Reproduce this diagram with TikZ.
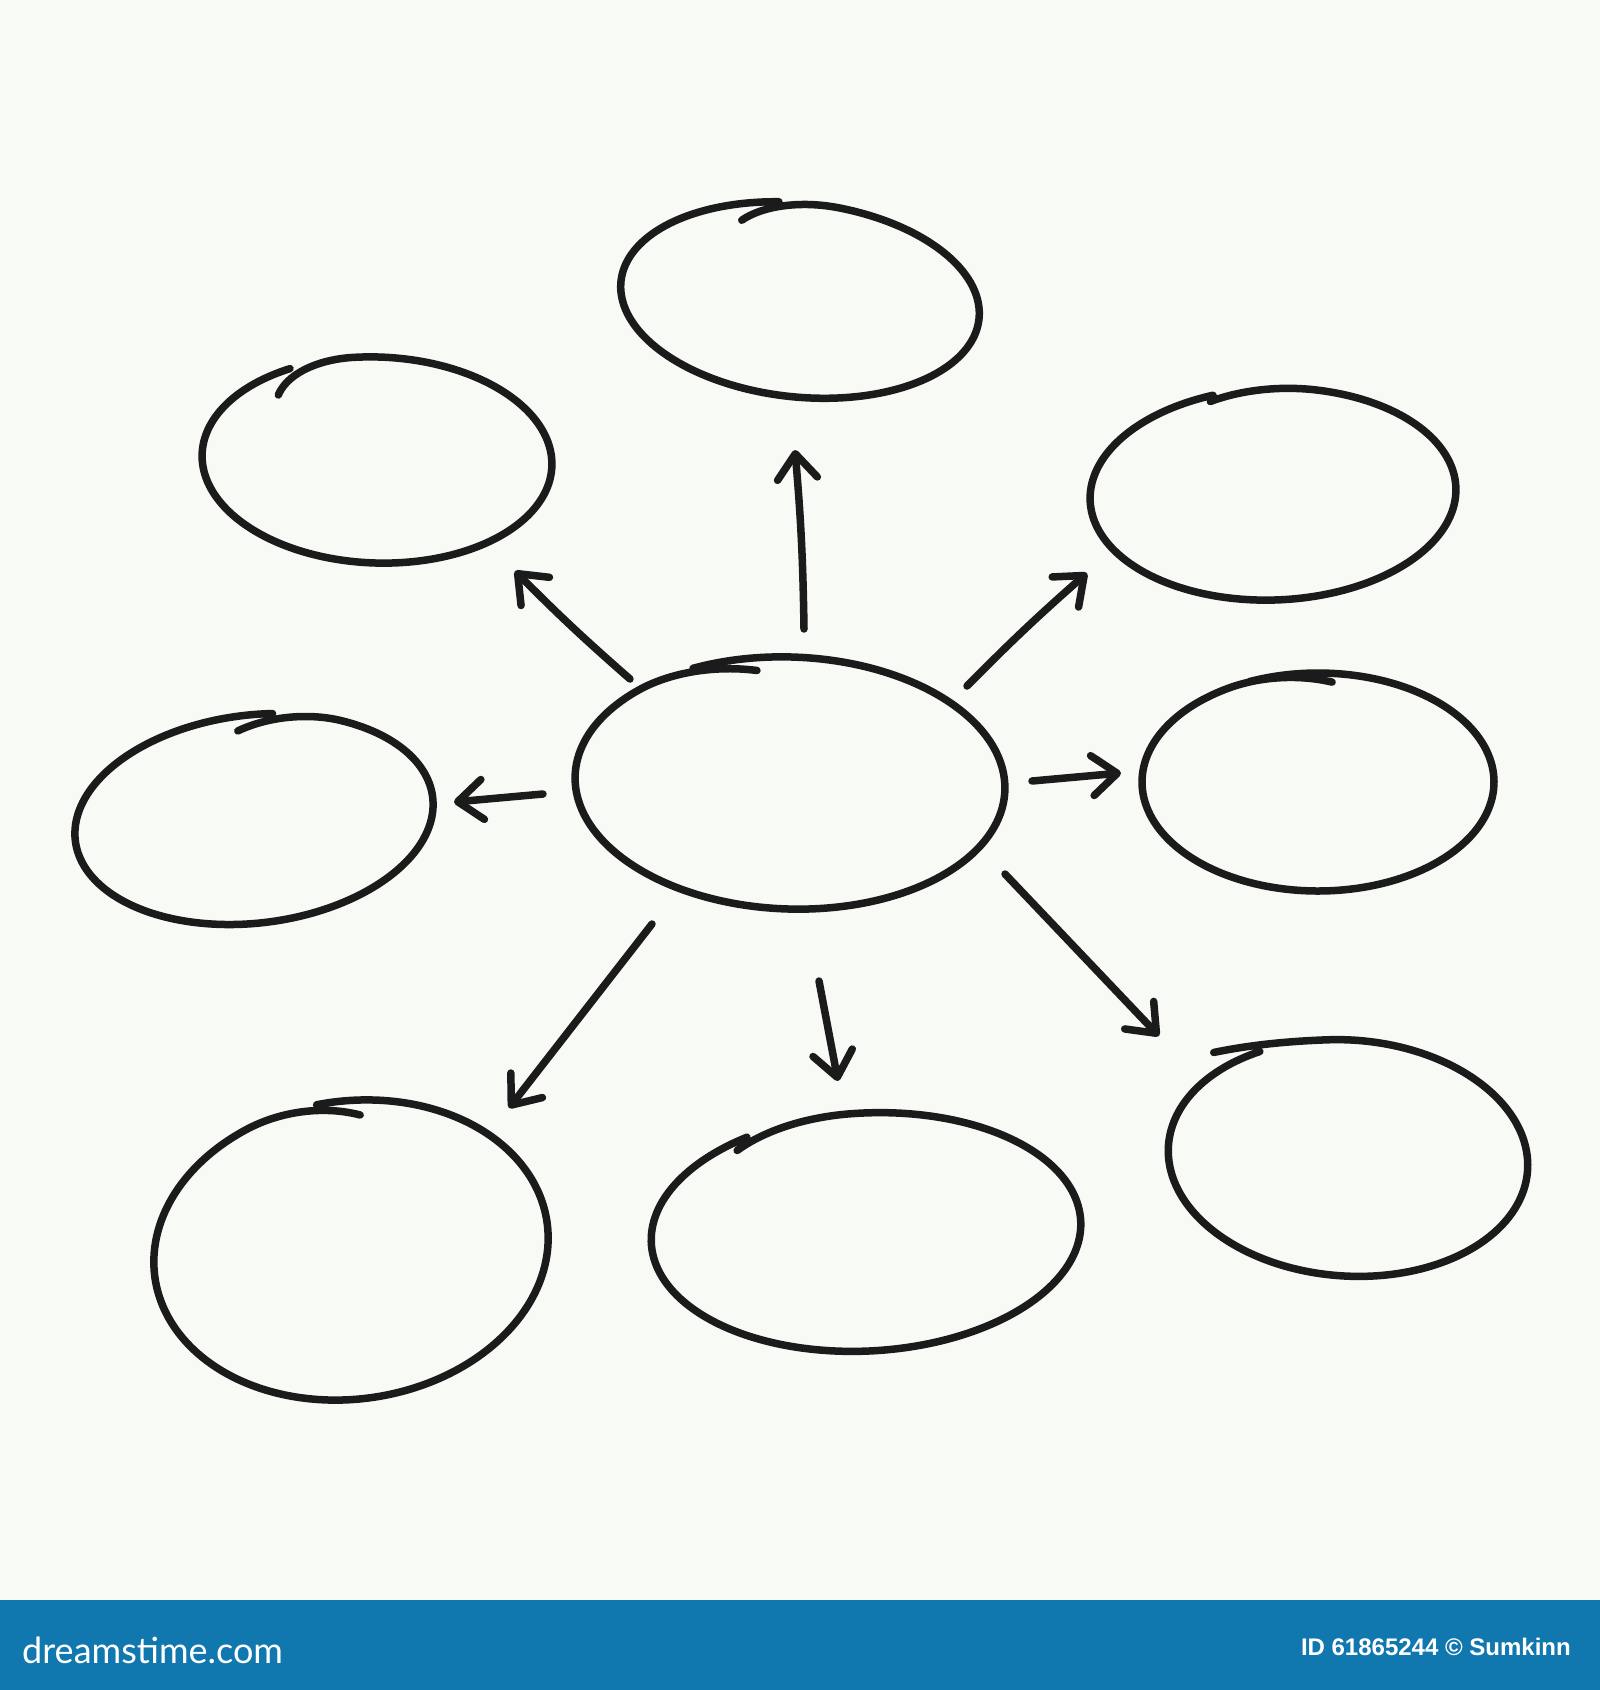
\documentclass[tikz,border=0pt]{standalone}
\usepackage{fontspec}
\setmainfont{Liberation Sans}
\newfontfamily\logofont{Lato}
\usetikzlibrary{arrows.meta,shapes.geometric}
\definecolor{bg}{HTML}{F8FAF5}
\definecolor{barblue}{HTML}{1077AF}
\definecolor{ink}{HTML}{1C1B1B}
\tikzset{
  pen/.style={draw=ink, line width=7.5pt, line cap=round, line join=round},
  ellnode/.style={ellipse, draw=none, inner sep=0pt},
  arr/.style={pen, -{Straight Barb[round,length=25pt,width=40pt]}},
}
% name, cx, cy(image), rx, ry, rot, t0, t1, d  (last 35 degrees drift by factor d)
\newcommand\hdell[9]{%
  \node[ellnode, minimum width={2*#4pt}, minimum height={2*#5pt}, rotate=#6] (#1) at (#2,-#3) {};
  \draw[pen, shift={(#2,-#3)}, rotate=#6]
    plot[smooth, samples=180, domain=#7:#8, variable=\t]
    ({#4*(1-(#9)*(max(0,1-abs((#8)-\t)/35))^2)*cos(\t)},
     {#5*(1-(#9)*(max(0,1-abs((#8)-\t)/35))^2)*sin(\t)});
}
\begin{document}
\begin{tikzpicture}[x=1pt,y=1pt]
\useasboundingbox (0,0) rectangle (1600,-1690);
\fill[bg] (0,0) rectangle (1600,-1690);

% ellipses
\hdell{T}{800}{300}{180}{97}{-6}{100}{476}{0.16}
\hdell{UL}{377}{460}{175}{103}{-2}{121}{494}{0.17}
\hdell{UR}{1273}{494}{183}{106}{2}{108}{470}{0.05}
\hdell{L}{254}{819}{180}{104}{7}{80}{452}{0.14}
\hdell{C}{790}{783}{215}{126}{-2}{118}{-259}{0.10}
\hdell{R}{1318}{782}{176}{109}{0}{113}{-275}{0.08}
\hdell{BL}{351}{1250}{198}{149}{8}{94}{-279}{0.10}
\hdell{BM}{866}{1232}{215}{119}{3}{122}{488}{0.06}
\hdell{BR}{1348}{1158}{180}{118}{-4}{122}{494}{-0.13}

% arrow end points
\coordinate (aULs) at (630,-679);  \coordinate (aULe) at (515,-571);
\coordinate (aTs)  at (804,-629);  \coordinate (aTe)  at (795,-450);
\coordinate (aURs) at (967,-686);  \coordinate (aURe) at (1087,-573);
\coordinate (aLs)  at (543,-794);  \coordinate (aLe)  at (454,-802);
\coordinate (aRs)  at (1032,-781); \coordinate (aRe)  at (1121,-773);
\coordinate (aBRs) at (1005,-874); \coordinate (aBRe) at (1159,-1036);
\coordinate (aBMs) at (819,-981);  \coordinate (aBMe) at (838,-1081);
\coordinate (aBLs) at (652,-924);  \coordinate (aBLe) at (509,-1108);

\draw[arr] (aULs) to[bend left=2] (aULe);
\draw[arr] (aTs) to[bend right=2] (aTe);
\draw[arr] (aURs) to[bend left=2] (aURe);
\draw[arr] (aLs) -- (aLe);
\draw[arr] (aRs) -- (aRe);
\draw[arr] (aBRs) -- (aBRe);
\draw[arr] (aBMs) -- (aBMe);
\draw[arr] (aBLs) -- (aBLe);

% bottom bar
\fill[barblue] (0,-1600) rectangle (1600,-1690);
\node[anchor=base west, text=white, inner sep=0pt,
      font=\logofont\fontsize{36}{36}\selectfont] (logo) at (22,-1663) {dreamstime.com};
\node[anchor=base east, text=white, inner sep=0pt,
      font=\bfseries\fontsize{24}{24}\selectfont] (id) at (1571,-1655) {ID 61865244 © Sumkinn};
\end{tikzpicture}
\end{document}
